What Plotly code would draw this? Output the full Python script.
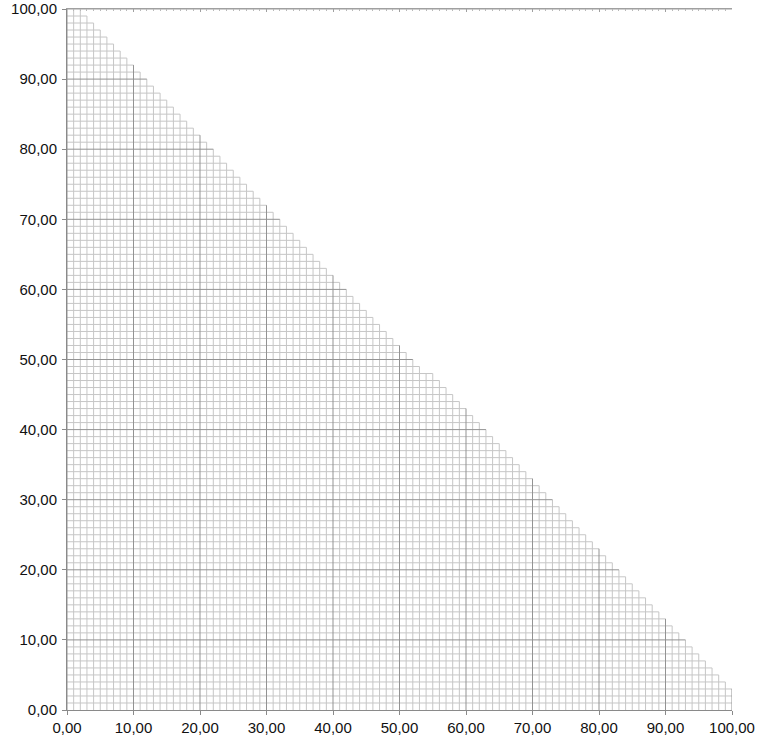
import plotly.graph_objects as go

# Top end (y value) of each vertical grid line x = 0..100, read from the staircase
x_positions = list(range(0, 101))
vertical_tops = [100, 100, 100, 99, 98, 97, 96, 95, 94, 93,
                 92, 91, 90, 89, 88, 87, 86, 85, 84, 83,
                 82, 81, 80, 79, 78, 77, 76, 75, 74, 73,
                 72, 71, 70, 69, 68, 67, 66, 65, 64, 63,
                 62, 61, 60, 59, 58, 57, 56, 55, 54, 53,
                 52, 51, 50, 49, 48, 48, 47, 46, 45, 44,
                 43, 42, 41, 40, 39, 38, 37, 36, 35, 34,
                 33, 32, 31, 30, 29, 28, 27, 26, 25, 24,
                 23, 22, 21, 20, 19, 18, 17, 16, 15, 14,
                 13, 12, 11, 10, 9, 8, 7, 6, 5, 4,
                 3]
y_positions = list(range(0, 101))
tick_values = [0, 10, 20, 30, 40, 50, 60, 70, 80, 90, 100]
tick_labels = ["0,00", "10,00", "20,00", "30,00", "40,00", "50,00",
               "60,00", "70,00", "80,00", "90,00", "100,00"]

# horizontal line extents derived from the staircase
horiz_ends = []
for j in y_positions:
    ends = [x for x, t in zip(x_positions, vertical_tops) if t >= j]
    horiz_ends.append(max(ends) if ends else 0)

minor_x, minor_y, major_x, major_y = [], [], [], []
for x, t in zip(x_positions, vertical_tops):
    tx, ty = (major_x, major_y) if x % 10 == 0 else (minor_x, minor_y)
    tx += [x, x, None]
    ty += [0, t, None]
for y, e in zip(y_positions, horiz_ends):
    if y in (0, 100):
        continue
    tx, ty = (major_x, major_y) if y % 10 == 0 else (minor_x, minor_y)
    tx += [0, e, None]
    ty += [y, y, None]

fig = go.Figure()
fig.add_trace(go.Scatter(x=minor_x, y=minor_y, mode="lines",
                         line=dict(color="#c6c6c6", width=1),
                         hoverinfo="skip", showlegend=False))
fig.add_trace(go.Scatter(x=major_x, y=major_y, mode="lines",
                         line=dict(color="#939393", width=1),
                         hoverinfo="skip", showlegend=False))
# trace attached to the top axis so it is drawn
fig.add_trace(go.Scatter(x=[0, 100], y=[100, 100], mode="lines",
                         line=dict(color="#a0a0a0", width=1), xaxis="x2",
                         hoverinfo="skip", showlegend=False))

font = dict(family="Liberation Sans, Arial, sans-serif", size=15, color="#111111")
fig.update_layout(
    width=768, height=743,
    margin=dict(l=67, r=36, t=9, b=33, autoexpand=False),
    paper_bgcolor="white", plot_bgcolor="white",
    font=font,
    xaxis=dict(range=[0, 100], tickvals=tick_values, ticktext=tick_labels,
               showgrid=False, zeroline=False, showline=True,
               linecolor="#8a8a8a", linewidth=1, ticks="outside",
               ticklen=4, tickcolor="#8a8a8a", tickfont=font,
               automargin=False, ticklabeloverflow="allow"),
    xaxis2=dict(range=[0, 100], overlaying="x", side="top",
                showgrid=False, zeroline=False, showline=True,
                linecolor="#a0a0a0", linewidth=1,
                ticks="inside", ticklen=3, tickcolor="#a0a0a0",
                tickvals=tick_values, showticklabels=False,
                automargin=False,
                minor=dict(ticks="inside", ticklen=1.5, dtick=1, tick0=0,
                           tickcolor="#b8b8b8", showgrid=False)),
    yaxis=dict(range=[0, 100], tickvals=tick_values, ticktext=tick_labels,
               showgrid=False, zeroline=False, showline=True,
               linecolor="#8a8a8a", linewidth=1, ticks="outside",
               ticklen=4, tickcolor="#8a8a8a", tickfont=font,
               automargin=False, ticklabeloverflow="allow",
               ticklabelstandoff=2),
)

fig.write_html("out.html",
               config={"displayModeBar": False},
               post_script="document.body.style.margin='0';")
